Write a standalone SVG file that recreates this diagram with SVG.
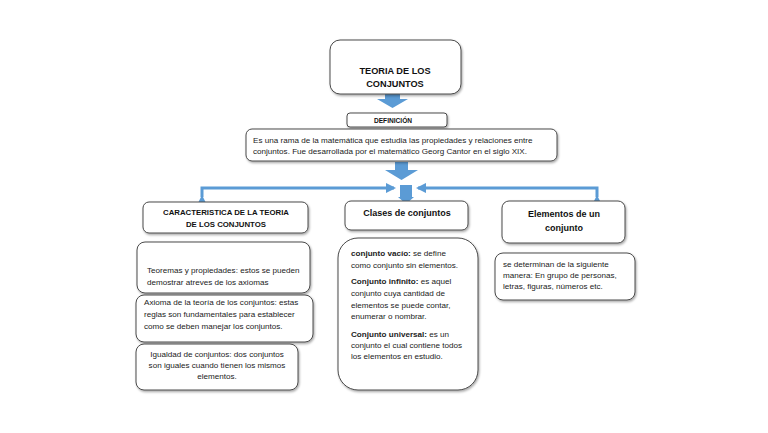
<svg xmlns="http://www.w3.org/2000/svg" width="768" height="433" viewBox="0 0 768 433">
<defs>
<style>
.box{fill:#fff;stroke:#4a4a4a;stroke-width:1;filter:url(#sh)}
.h{font-family:"Liberation Sans",Arial,sans-serif;font-weight:bold;fill:#111}
.t{font-family:"Liberation Sans",Arial,sans-serif;font-size:8.1px;fill:#222}
.b{font-weight:bold}
.blk{fill:#5b9bd5}
.ln{fill:none;stroke:#5b9bd5;stroke-width:3}
</style>
<filter id="sh" x="-10%" y="-10%" width="130%" height="140%">
<feDropShadow dx="1" dy="1.5" stdDeviation="0.8" flood-color="#000" flood-opacity="0.35"/>
</filter>
<marker id="ah" viewBox="0 0 10 10" refX="8" refY="5" markerWidth="3.4" markerHeight="3.4" orient="auto" markerUnits="strokeWidth">
<path d="M0,0 L10,5 L0,10 z" fill="#5b9bd5"/>
</marker>
</defs>
<rect width="768" height="433" fill="#fff"/>

<g id="connectors">
<path class="blk" d="M385,90 H400 V99 H408 L392.5,108 L377,99 H385 Z"/>
<path class="blk" d="M395,162 H408 V170 H418 L401.5,180 L385,170 H395 Z"/>
<rect class="blk" x="400" y="185" width="12" height="12"/>
<path class="blk" d="M401,196 H411 V197 H414 L406,204 L398,197 H401 Z"/>
<polyline class="ln" points="202,197 202,188 394,188" marker-end="url(#ah)" marker-start="url(#ah)"/>
<polyline class="ln" points="597,197 597,188 418,188" marker-end="url(#ah)" marker-start="url(#ah)"/>
</g>

<g id="title">
<rect class="box" x="330" y="40" width="131" height="54" rx="10"/>
<text class="h" font-size="9.2" text-anchor="middle" x="395" y="74">TEORIA DE LOS</text>
<text class="h" font-size="9.2" text-anchor="middle" x="395" y="87">CONJUNTOS</text>
</g>

<g id="definicion">
<rect class="box" x="347" y="113" width="100" height="14" rx="3"/>
<text class="h" font-size="6.6" text-anchor="middle" x="393" y="123">DEFINICIÓN</text>
</g>

<g id="definicion-texto">
<rect class="box" x="246" y="129" width="311" height="32" rx="6"/>
<text class="t" x="253" y="143">Es una rama de la matemática que estudia las propiedades y relaciones entre</text>
<text class="t" x="253" y="154">conjuntos. Fue desarrollada por el matemático Georg Cantor en el siglo XIX.</text>
</g>

<g id="caracteristica">
<rect class="box" x="143" y="202" width="165" height="31" rx="6"/>
<text class="h" font-size="7.8" text-anchor="middle" x="226" y="215">CARACTERISTICA DE LA TEORIA</text>
<text class="h" font-size="7.8" text-anchor="middle" x="226" y="227">DE LOS CONJUNTOS</text>
</g>

<g id="clases">
<rect class="box" x="345" y="201" width="123" height="29" rx="6"/>
<text class="h" font-size="9" text-anchor="middle" x="407" y="216">Clases de conjuntos</text>
</g>

<g id="elementos">
<rect class="box" x="502" y="201" width="123" height="42" rx="7"/>
<text class="h" font-size="9" text-anchor="middle" x="564" y="217">Elementos de un</text>
<text class="h" font-size="9" text-anchor="middle" x="564" y="231">conjunto</text>
</g>

<g id="teoremas">
<rect class="box" x="137" y="242" width="173" height="51" rx="8"/>
<text class="t" x="147" y="273">Teoremas y propiedades: estos se pueden</text>
<text class="t" x="147" y="285">demostrar atreves de los axiomas</text>
</g>

<g id="axioma">
<rect class="box" x="136" y="295" width="177" height="47" rx="8"/>
<text class="t" x="144" y="305">Axioma de la teoría de los conjuntos: estas</text>
<text class="t" x="144" y="317">reglas son fundamentales para establecer</text>
<text class="t" x="144" y="329">como se deben manejar  los conjuntos.</text>
</g>

<g id="igualdad">
<rect class="box" x="136" y="344" width="162" height="46" rx="8"/>
<text class="t" text-anchor="middle" x="217" y="357">Igualdad de conjuntos: dos conjuntos</text>
<text class="t" text-anchor="middle" x="217" y="368">son iguales cuando tienen los mismos</text>
<text class="t" text-anchor="middle" x="217" y="379">elementos.</text>
</g>

<g id="clases-texto">
<rect class="box" x="338" y="238" width="140" height="152" rx="20"/>
<text class="t" x="351" y="256"><tspan class="b">conjunto vacío:</tspan>  se define</text>
<text class="t" x="351" y="268">como conjunto sin elementos.</text>
<text class="t" x="351" y="284"><tspan class="b">Conjunto infinito:</tspan> es aquel</text>
<text class="t" x="351" y="296">conjunto cuya cantidad de</text>
<text class="t" x="351" y="308">elementos se puede contar,</text>
<text class="t" x="351" y="319">enumerar o nombrar.</text>
<text class="t" x="351" y="337"><tspan class="b">Conjunto universal:</tspan> es un</text>
<text class="t" x="351" y="348">conjunto el cual contiene todos</text>
<text class="t" x="351" y="359">los elementos en estudio.</text>
</g>

<g id="elementos-texto">
<rect class="box" x="495" y="253" width="140" height="47" rx="8"/>
<text class="t" x="503" y="267">se determinan de la siguiente</text>
<text class="t" x="503" y="278">manera: En grupo de personas,</text>
<text class="t" x="503" y="289">letras, figuras, números etc.</text>
</g>
</svg>
